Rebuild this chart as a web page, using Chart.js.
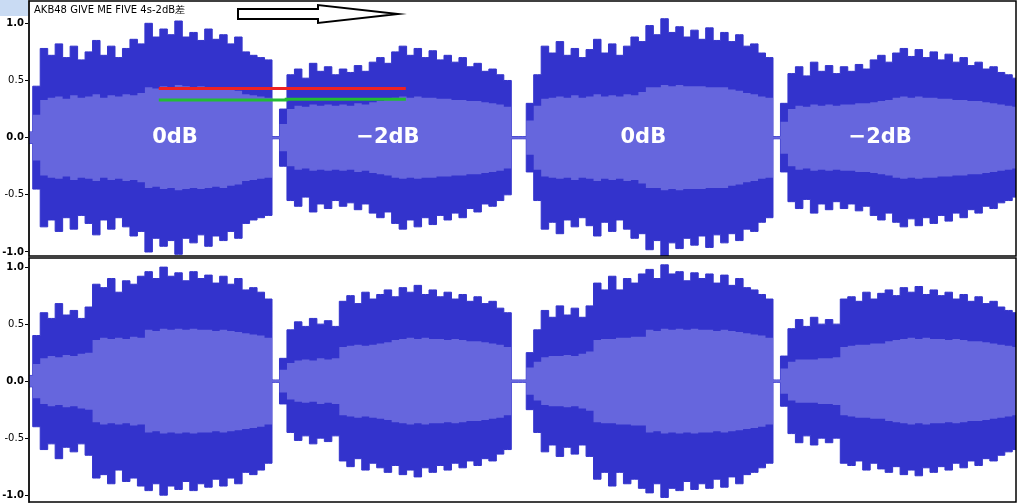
<!DOCTYPE html>
<html><head><meta charset="utf-8">
<script src="https://cdn.jsdelivr.net/npm/chart.js@4/dist/chart.umd.min.js"></script>
<style>body{margin:0;background:#fff;width:1024px;height:503px;overflow:hidden;position:relative}
canvas{display:block}
#t{position:absolute;left:34px;top:3px;font:10px "DejaVu Sans";color:#000}</style></head>
<body>
<canvas id="c1" width="1024" height="257"></canvas>
<canvas id="c2" width="1024" height="246"></canvas>
<div id="t">AKB48 GIVE ME FIVE 4s-2dB差</div>
<script>
const STEP = 0.125; // seconds per envelope bin
const yTicks = [-1, -0.5, 0, 0.5, 1];
const segLabels = ["0dB", "−2dB", "0dB", "−2dB"];
const segLabelTimes = [2.44, 6.0, 10.27, 14.23];
const redLine = [[2.17, 0.43], [6.3, 0.43]];
const greenLine = [[2.17, 0.33], [4.3, 0.33], [4.3, 0.335], [6.3, 0.335]];

const topPeak = [
0.05,0.45,0.78,0.72,0.82,0.70,0.80,0.68,0.75,0.85,0.72,0.80,0.70,0.78,0.86,0.82,1.00,0.88,0.95,0.90,1.02,0.88,0.92,0.85,0.95,0.86,0.90,0.82,0.88,0.75,0.72,0.70,0.68,
0.01,
0.25,0.55,0.60,0.52,0.65,0.58,0.62,0.55,0.60,0.57,0.63,0.58,0.66,0.70,0.65,0.75,0.80,0.72,0.78,0.70,0.76,0.68,0.72,0.66,0.70,0.62,0.65,0.58,0.60,0.55,0.50,
0.01,0.01,
0.30,0.55,0.80,0.74,0.84,0.72,0.78,0.70,0.77,0.86,0.74,0.82,0.72,0.80,0.88,0.84,0.98,0.90,1.04,0.92,0.97,0.88,0.94,0.86,0.96,0.85,0.92,0.84,0.90,0.80,0.82,0.74,0.70,
0.01,
0.30,0.56,0.62,0.54,0.66,0.58,0.63,0.56,0.62,0.58,0.64,0.60,0.68,0.72,0.66,0.74,0.78,0.71,0.77,0.70,0.75,0.68,0.73,0.66,0.70,0.63,0.66,0.60,0.62,0.57,0.55,0.52
];
const topRms = [
0.05,0.20,0.33,0.35,0.36,0.34,0.37,0.35,0.36,0.38,0.35,0.37,0.36,0.38,0.37,0.39,0.44,0.43,0.45,0.44,0.46,0.45,0.44,0.45,0.44,0.43,0.44,0.42,0.41,0.38,0.37,0.36,0.35,
0.01,
0.12,0.25,0.28,0.27,0.29,0.28,0.29,0.28,0.29,0.28,0.30,0.29,0.31,0.32,0.33,0.35,0.36,0.35,0.36,0.35,0.35,0.34,0.34,0.33,0.33,0.32,0.32,0.31,0.30,0.29,0.27,
0.01,0.01,
0.15,0.28,0.34,0.35,0.36,0.35,0.37,0.35,0.36,0.38,0.36,0.37,0.36,0.38,0.37,0.40,0.44,0.44,0.46,0.45,0.46,0.45,0.45,0.45,0.44,0.44,0.44,0.42,0.41,0.39,0.38,0.36,0.35,
0.01,
0.14,0.25,0.28,0.27,0.29,0.28,0.29,0.28,0.29,0.29,0.30,0.30,0.31,0.32,0.33,0.35,0.36,0.35,0.36,0.35,0.35,0.34,0.34,0.33,0.33,0.32,0.32,0.31,0.30,0.29,0.28,0.27
];
const botPeak = [
0.05,0.40,0.60,0.55,0.68,0.58,0.62,0.55,0.65,0.85,0.82,0.90,0.78,0.88,0.85,0.92,0.96,0.90,1.00,0.92,0.95,0.88,0.96,0.90,0.93,0.86,0.92,0.85,0.90,0.80,0.82,0.78,0.72,
0.01,
0.20,0.45,0.52,0.48,0.55,0.50,0.53,0.48,0.70,0.75,0.68,0.78,0.72,0.76,0.80,0.74,0.82,0.78,0.84,0.76,0.80,0.74,0.78,0.72,0.76,0.70,0.74,0.68,0.70,0.64,0.60,
0.01,0.01,
0.25,0.45,0.62,0.56,0.66,0.58,0.64,0.56,0.66,0.86,0.80,0.92,0.80,0.90,0.86,0.94,0.98,0.90,1.02,0.94,0.96,0.88,0.95,0.90,0.94,0.86,0.93,0.84,0.90,0.82,0.80,0.76,0.72,
0.01,
0.22,0.46,0.54,0.48,0.56,0.50,0.54,0.50,0.72,0.74,0.70,0.78,0.72,0.77,0.80,0.75,0.82,0.78,0.83,0.76,0.80,0.75,0.78,0.72,0.76,0.70,0.74,0.68,0.70,0.65,0.62,0.60
];
const botRms = [
0.05,0.15,0.20,0.22,0.21,0.23,0.22,0.24,0.25,0.36,0.38,0.37,0.38,0.37,0.39,0.38,0.45,0.44,0.46,0.45,0.46,0.45,0.46,0.45,0.45,0.44,0.45,0.44,0.43,0.42,0.41,0.40,0.38,
0.01,
0.10,0.16,0.18,0.19,0.18,0.20,0.19,0.20,0.30,0.31,0.32,0.31,0.32,0.33,0.34,0.36,0.37,0.38,0.37,0.38,0.37,0.37,0.36,0.37,0.36,0.35,0.35,0.34,0.33,0.32,0.30,
0.01,0.01,
0.12,0.17,0.21,0.22,0.22,0.23,0.22,0.24,0.26,0.36,0.37,0.37,0.38,0.38,0.39,0.39,0.45,0.44,0.46,0.45,0.46,0.45,0.46,0.45,0.45,0.44,0.45,0.44,0.43,0.42,0.41,0.40,0.38,
0.01,
0.11,0.17,0.19,0.19,0.19,0.20,0.20,0.21,0.30,0.31,0.32,0.32,0.33,0.33,0.35,0.36,0.37,0.38,0.37,0.38,0.37,0.37,0.36,0.37,0.36,0.35,0.35,0.34,0.33,0.32,0.31,0.30
];

const DARK = '#3333cc', LIGHT = '#6666dd';
function pts(arr, sign) { return arr.map((v, i) => ({x: i * STEP, y: sign * v})); }
function linePts(arr) { return arr.map(p => ({x: p[0], y: p[1]})); }

function makeChart(id, peak, rms, yMin, yMax, isTop) {
  const ds = [
    {data: pts(peak, 1), borderColor: DARK, borderWidth: 1, pointRadius: 0, fill: false, stepped: 'middle', order: 3},
    {data: pts(peak, -1), borderColor: DARK, borderWidth: 1, pointRadius: 0, fill: '-1', backgroundColor: DARK, stepped: 'middle', order: 2},
    {data: pts(rms, 1), borderColor: LIGHT, borderWidth: 0, pointRadius: 0, fill: false, stepped: 'middle', order: 1},
    {data: pts(rms, -1), borderColor: LIGHT, borderWidth: 0, pointRadius: 0, fill: '-1', backgroundColor: LIGHT, stepped: 'middle', order: 0},
  ];
  if (isTop) {
    ds.push({data: linePts(redLine), borderColor: '#ee2222', borderWidth: 3, pointRadius: 0, fill: false, order: -1});
    ds.push({data: linePts(greenLine), borderColor: '#22bb33', borderWidth: 3, pointRadius: 0, fill: false, order: -2});
  }
  const overlay = {
    id: 'ov',
    afterDatasetsDraw(chart) {
      const ctx = chart.ctx, a = chart.chartArea, xs = chart.scales.x, ys = chart.scales.y;
      ctx.save();
      if (isTop) {
        ctx.fillStyle = '#ffffff';
        ctx.font = 'bold 21px "DejaVu Sans"';
        ctx.textAlign = 'center'; ctx.textBaseline = 'middle';
        segLabels.forEach((s, i) => ctx.fillText(s, xs.getPixelForValue(segLabelTimes[i]), ys.getPixelForValue(0)));
        ctx.strokeStyle = '#000'; ctx.lineWidth = 2;
        ctx.beginPath();
        ctx.moveTo(238, 9); ctx.lineTo(318, 9); ctx.lineTo(318, 5); ctx.lineTo(398, 14);
        ctx.lineTo(318, 23); ctx.lineTo(318, 19); ctx.lineTo(238, 19); ctx.closePath(); ctx.stroke();
        ctx.fillStyle = '#c9dbf3'; ctx.fillRect(0, 0, 28, 16);
      }
      ctx.strokeStyle = '#000'; ctx.lineWidth = 1.5;
      ctx.strokeRect(a.left, a.top, a.right - a.left, a.bottom - a.top);
      if (!isTop) { ctx.fillStyle = '#f0e040'; ctx.fillRect(28, a.bottom + 1, 996, 2); }
      ctx.restore();
    }
  };
  return new Chart(document.getElementById(id), {
    type: 'line',
    data: {datasets: ds},
    plugins: [overlay],
    options: {
      responsive: false, animation: false, devicePixelRatio: 1,
      layout: {padding: {top: 1, bottom: 1, right: 8, left: 0}},
      plugins: {legend: {display: false}, tooltip: {enabled: false}, filler: {drawTime: 'beforeDatasetDraw'}},
      scales: {
        x: {type: 'linear', min: 0, max: 16.5, display: false},
        y: {
          min: yMin, max: yMax,
          afterBuildTicks(s) { s.ticks = yTicks.map(v => ({value: v})); },
          afterFit(s) { s.width = 29; s.paddingTop = 0; s.paddingBottom = 0; },
          grid: {drawOnChartArea: false, tickLength: 4, color: '#000'},
          border: {color: '#888', width: 2},
          ticks: {
            padding: 1, color: '#000',
            font: c => ({family: 'DejaVu Sans', size: 10, weight: (c.tick && Math.abs(c.tick.value) === 0.5) ? 'normal' : 'bold'}),
            callback: v => v.toFixed(1)
          }
        }
      }
    }
  });
}
makeChart('c1', topPeak, topRms, -1.035, 1.195, true);
makeChart('c2', botPeak, botRms, -1.06, 1.08, false);
</script>
</body></html>
